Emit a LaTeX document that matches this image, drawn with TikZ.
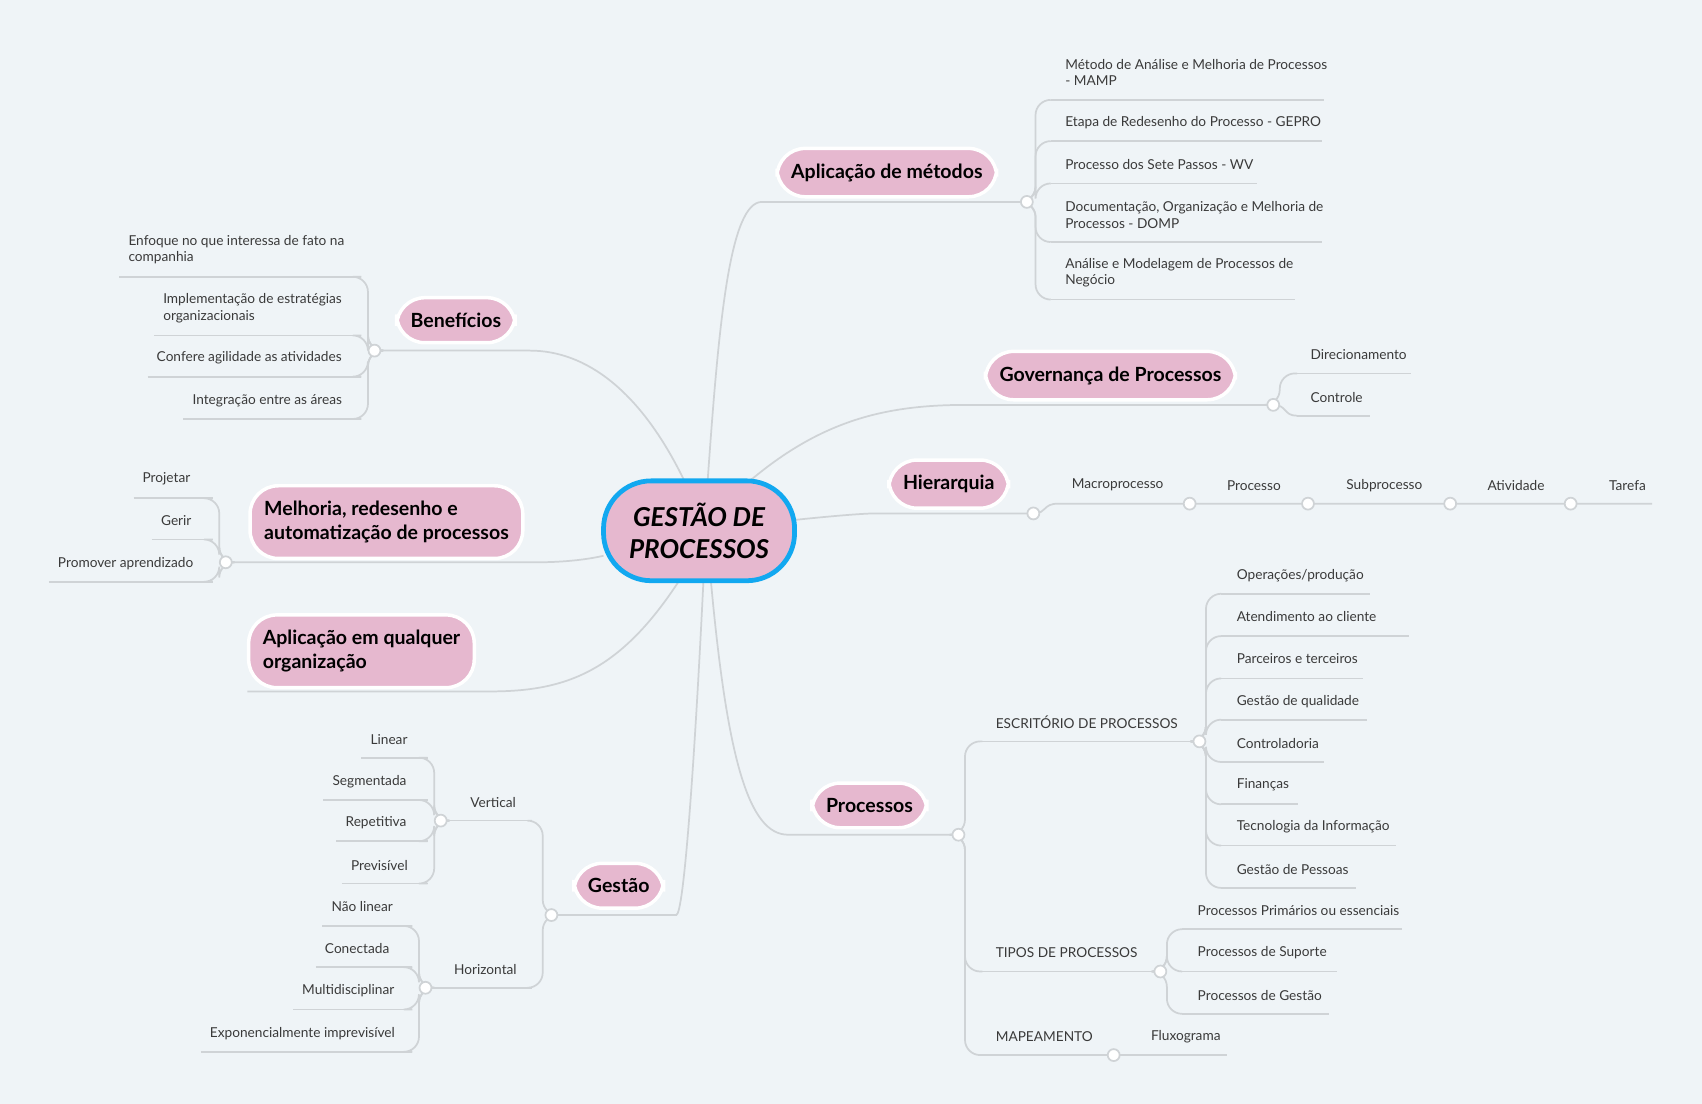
\documentclass[tikz,border=0pt]{standalone}
\usepackage{fontspec}
\setmainfont{Lato}
\begin{document}
\begin{tikzpicture}[x=0.5pt,y=-0.5pt]
\definecolor{bg}{HTML}{EFF4F7}
\definecolor{ln}{HTML}{CFD3D6}
\definecolor{pk}{HTML}{E6B8CF}
\definecolor{tx}{HTML}{3A3A3A}
\definecolor{bl}{HTML}{12A8F0}
\tikzset{
 conn/.style={draw=ln,line width=0.8pt,rounded corners=7},
 uline/.style={draw=ln,line width=0.8pt},
 lt/.style={anchor=west,inner sep=0pt,text=tx,font=\fontsize{6.3}{7.5}\selectfont,align=left},
 mainbox/.style={fill=pk,draw=white,line width=1.6pt,rounded corners=13,font=\bfseries\fontsize{9}{11.2}\selectfont,inner xsep=6.5pt,inner ysep=7pt,align=left},
 dot/.style={circle,draw=ln,fill=white,line width=0.8pt,minimum size=5.5pt,inner sep=0pt},
}
\fill[bg] (0,0) rectangle (1568,1017);
\useasboundingbox (0,0) rectangle (1568,1017);
\newcommand\lf[7]{\node[lt] (#1) at (#2,#3) {#7};\coordinate (#1s) at (#4,#6);\coordinate (#1e) at (#5,#6);\draw[uline] (#1s)--(#1e);}
% circles
\coordinate (c1) at (946,186);
\coordinate (c2) at (1173,373);
\coordinate (c3) at (952,473);
\coordinate (c4) at (883,769);
\coordinate (c4a) at (1105,683);
\coordinate (c4b) at (1069,895);
\coordinate (c4c) at (1026,972);
\coordinate (c5) at (345,323);
\coordinate (c6) at (208,518);
\coordinate (c8) at (508,843);
\coordinate (c8a) at (406,756);
\coordinate (c8b) at (392,910);
\coordinate (h1) at (1096,464);
\coordinate (h2) at (1205,464);
\coordinate (h3) at (1336,464);
\coordinate (h4) at (1447,464);

% main connectors from center
\draw[conn] (652,442) .. controls (662,300) and (672,186) .. (716,186) -- (c1);
\draw[conn] (692,442) .. controls (760,385) and (820,373) .. (905,373) -- (c2);
\draw[conn] (732,479) .. controls (780,474) and (800,473) .. (820,473) -- (c3);
\draw[conn] (655,536) .. controls (670,700) and (690,769) .. (740,769) -- (c4);
\draw[conn] (630,442) .. controls (590,360) and (540,323) .. (474,323) -- (c5);
\draw[conn] (556,512) .. controls (530,518) and (500,518) .. (481,518) -- (c6);
\draw[conn] (625,536) .. controls (570,620) and (520,637) .. (437,637) -- (228,637);
\draw[conn] (648,536) .. controls (640,700) and (630,843) .. (609,843) -- (c8);

% center node
\node[fill=pk,draw=bl,line width=2.2pt,rounded corners=22,minimum width=88pt,minimum height=46pt,align=center,font=\bfseries\itshape\fontsize{12}{15}\selectfont] (center) at (644,489) {GESTÃO DE\\PROCESSOS};

% main nodes
\node[mainbox] (m1) at (817,159) {Aplicação de métodos};
\node[mainbox] (m2) at (1023,346) {Governança de Processos};
\node[mainbox] (m3) at (874,446) {Hierarquia};
\node[mainbox] (m4) at (801,742) {Processos};
\node[mainbox] (m5) at (420,295) {Benefícios};
\node[mainbox] (m6) at (356,481) {Melhoria, redesenho e\\automatização de processos};
\node[mainbox] (m7) at (333,600) {Aplicação em qualquer\\organização};
\node[mainbox] (m8) at (570,816) {Gestão};

% Aplicação de métodos children
\lf{a1}{981}{67}{968}{1220}{92}{Método de Análise e Melhoria de Processos\\- MAMP}
\lf{a2}{981}{113}{968}{1218}{130}{Etapa de Redesenho do Processo - GEPRO}
\lf{a3}{981}{152}{968}{1158}{169}{Processo dos Sete Passos - WV}
\lf{a4}{981}{198}{968}{1218}{223}{Documentação, Organização e Melhoria de\\Processos - DOMP}
\lf{a5}{981}{251}{968}{1193}{276}{Análise e Modelagem de Processos de\\Negócio}
\foreach \n in {a1,a2,a3,a4,a5}{\draw[conn] (c1) -- ++(8,0) |- (\n s);}

% Governança
\lf{g1}{1207}{327}{1195}{1300}{344}{Direcionamento}
\lf{g2}{1207}{366}{1195}{1262}{383}{Controle}
\draw[conn] (c2) -- ++(6,0) |- (g1s);
\draw[uline] (c2) .. controls (1186,373) and (1182,383) .. (1195,383);

% Hierarquia chain
\node[lt] (hx1) at (987,447) {Macroprocesso};
\node[lt] (hx2) at (1130,447) {Processo};
\node[lt] (hx3) at (1240,447) {Subprocesso};
\node[lt] (hx4) at (1370,447) {Atividade};
\node[lt] (hx5) at (1482,447) {Tarefa};
\coordinate (hend) at (1522,464);
\coordinate (h0) at (975,464);
\draw[uline] (c3) .. controls (965,473) and (960,464) .. (h0) -- (h1) -- (h2) -- (h3) -- (h4) -- (hend);

% Processos
\lf{p1}{917}{665}{905}{1105}{683}{ESCRITÓRIO DE PROCESSOS}
\lf{p2}{917}{878}{905}{1069}{895}{TIPOS DE PROCESSOS}
\lf{p3}{917}{955}{905}{1026}{972}{MAPEAMENTO}
\foreach \n in {p1,p2,p3}{\draw[conn] (c4) -- ++(6,0) |- (\n s);}
\lf{e1}{1139}{530}{1125}{1262}{547}{Operações/produção}
\lf{e2}{1139}{568}{1125}{1298}{586}{Atendimento ao cliente}
\lf{e3}{1139}{607}{1125}{1256}{625}{Parceiros e terceiros}
\lf{e4}{1139}{646}{1125}{1259}{663}{Gestão de qualidade}
\lf{e5}{1139}{685}{1125}{1220}{702}{Controladoria}
\lf{e6}{1139}{723}{1125}{1196}{741}{Finanças}
\lf{e7}{1139}{762}{1125}{1286}{779}{Tecnologia da Informação}
\lf{e8}{1139}{801}{1125}{1249}{818}{Gestão de Pessoas}
\foreach \n in {e1,e2,e3,e4,e5,e6,e7,e8}{\draw[conn] (c4a) -- ++(6,0) |- (\n s);}
\lf{t1}{1103}{839}{1089}{1292}{856}{Processos Primários ou essenciais}
\lf{t2}{1103}{878}{1089}{1232}{895}{Processos de Suporte}
\lf{t3}{1103}{917}{1089}{1224}{934}{Processos de Gestão}
\foreach \n in {t1,t2,t3}{\draw[conn] (c4b) -- ++(6,0) |- (\n s);}
\lf{f1}{1060}{955}{1046}{1130}{972}{Fluxograma}
\draw[conn] (c4c) -- (f1s);

% Benefícios
\lf{b1}{118}{230}{110}{333}{255}{Enfoque no que interessa de fato na\\companhia}
\lf{b2}{150}{284}{142}{333}{309}{Implementação de estratégias\\organizacionais}
\lf{b3}{144}{330}{136}{333}{347}{Confere agilidade as atividades}
\lf{b4}{177}{369}{169}{333}{386}{Integração entre as áreas}
\foreach \n in {b1,b2,b3,b4}{\draw[conn] (c5) -- ++(-6,0) |- (\n e);}

% Melhoria
\lf{r1}{131}{441}{123}{196}{459}{Projetar}
\lf{r2}{148}{480}{140}{196}{497}{Gerir}
\lf{r3}{53}{519}{45}{196}{536}{Promover aprendizado}
\foreach \n in {r1,r2,r3}{\draw[conn] (c6) -- ++(-6,0) |- (\n e);}

% Gestão
\lf{v0}{433}{739}{406}{490}{756}{Vertical}
\lf{z0}{418}{893}{392}{490}{910}{Horizontal}
\draw[conn] (c8) -- ++(-8,0) |- (v0e);
\draw[conn] (c8) -- ++(-8,0) |- (z0e);
\lf{v1}{341}{681}{333}{394}{698}{Linear}
\lf{v2}{306}{720}{298}{394}{737}{Segmentada}
\lf{v3}{318}{758}{310}{394}{775}{Repetitiva}
\lf{v4}{323}{797}{315}{394}{814}{Previsível}
\foreach \n in {v1,v2,v3,v4}{\draw[conn] (c8a) -- ++(-6,0) |- (\n e);}
\lf{z1}{305}{835}{297}{380}{853}{Não linear}
\lf{z2}{299}{874}{291}{380}{891}{Conectada}
\lf{z3}{278}{913}{270}{380}{930}{Multidisciplinar}
\lf{z4}{193}{952}{185}{380}{969}{Exponencialmente imprevisível}
\foreach \n in {z1,z2,z3,z4}{\draw[conn] (c8b) -- ++(-6,0) |- (\n e);}

% dots
\foreach \c in {c1,c2,c3,c4,c4a,c4b,c4c,c5,c6,c8,c8a,c8b,h1,h2,h3,h4}{\node[dot] at (\c) {};}
\end{tikzpicture}
\end{document}
